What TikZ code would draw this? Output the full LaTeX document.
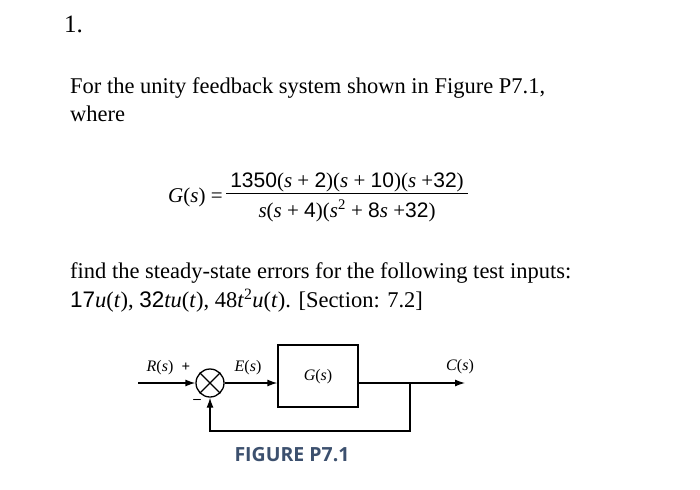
\documentclass[tikz,border=0pt]{standalone}
\usepackage{fontspec}
\setmainfont{Liberation Serif}
\newfontfamily\numf{Liberation Sans}
\newfontfamily\figf{Open Sans}
\usetikzlibrary{arrows.meta}
\definecolor{figblue}{RGB}{60,80,110}
\tikzset{
  txt/.style={anchor=base west,inner sep=0pt,font=\fontsize{22.5}{26}\selectfont},
  eq/.style={inner sep=0pt,font=\fontsize{21}{24}\selectfont},
  lbl/.style={inner sep=0pt,font=\fontsize{16}{18}\selectfont},
  sig/.style={line width=1.3pt,-{Latex[length=10pt,width=7pt]}},
}
\newcommand{\nm}[1]{{\numf #1}}
\newcommand{\iv}[1]{\textit{#1}}
\begin{document}
\begin{tikzpicture}[x=1pt,y=-1pt]
\useasboundingbox (0,0) rectangle (700,489);
\node[txt,font=\fontsize{25}{28}\selectfont] (t1) at (64,33) {1.};
\node[txt] (p1) at (70,94) {For the unity feedback system shown in Figure P7.1,};
\node[txt] (p2) at (70,122) {where};
\node[eq,anchor=base west] (g) at (168,202) {\iv{G}(\iv{s}) =};
\draw[line width=0.9pt] (226,193) -- (468,193);
\node[eq,anchor=base] (num) at (347,187) {\nm{1350}(\iv{s} + \nm{2})(\iv{s} + \nm{10})(\iv{s} +\nm{32})};
\node[eq,anchor=base] (den) at (347,217) {\iv{s}(\iv{s} + \nm{4})(\iv{s}\textsuperscript{2} + \nm{8}\iv{s} +\nm{32})};
\node[txt] (p3) at (70,278) {find the steady-state errors for the following test inputs:};
\node[txt] (p4) at (70,307) {\nm{17}\iv{u}(\iv{t}), \nm{32}\iv{tu}(\iv{t}), 48\iv{t}\textsuperscript{2}\iv{u}(\iv{t}). [Section: 7.2]};
% diagram
\node[draw,circle,line width=1.3pt,minimum size=28pt,inner sep=0pt] (sum) at (210,383) {};
\draw[line width=1.3pt] (sum.north west) -- (sum.south east) (sum.north east) -- (sum.south west);
\node[draw,line width=1.3pt,minimum width=80pt,minimum height=62pt] (G) at (318,376) {};
\node[lbl] at (318,377) {\iv{G}(\iv{s})};
\coordinate (in) at (138,383);
\coordinate (out) at (465,383);
\coordinate (br) at (410,383);
\coordinate (bl) at (410,431);
\coordinate (bs) at (210,431);
\draw[sig] (in) -- (sum.west);
\draw[sig] (sum.east) -- (G.west |- sum);
\draw[sig] (G.east |- sum) -- (out);
\draw[sig] (br) -- (bl) -- (bs) -- (sum.south);
\node[lbl] at (160,368) {\iv{R}(\iv{s})};
\node[lbl,font=\bfseries\fontsize{15}{18}\selectfont] at (186,367) {+};
\node[lbl,font=\bfseries\fontsize{15}{18}\selectfont] at (197,401) {--};
\node[lbl] at (248,368) {\iv{E}(\iv{s})};
\node[lbl] at (460,367) {\iv{C}(\iv{s})};
\node[inner sep=0pt,font=\figf\bfseries\fontsize{19.5}{22}\selectfont,text=figblue] (fig) at (292,455) {FIGURE P7.1};
\end{tikzpicture}
\end{document}
